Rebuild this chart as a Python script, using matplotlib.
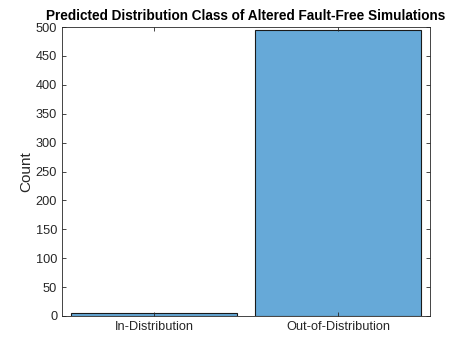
import matplotlib.pyplot as plt

# dados
categorias = ['In-Distribution', 'Out-of-Distribution']
contagens = [5, 495]
yticks = list(range(0, 501, 50))

plt.rcParams['font.family'] = ['Liberation Sans', 'DejaVu Sans']

fig = plt.figure(figsize=(4.74, 3.55), dpi=100)
ax = fig.add_axes([62 / 474, 1 - 316 / 355, 368 / 474, 289 / 355])

ax.bar(range(len(categorias)), contagens, width=0.9, color='#66a9d8',
       edgecolor='#1a1a1a', linewidth=0.8)

ax.set_xlim(-0.5, 1.5)
ax.set_ylim(0, 500)
ax.set_yticks(yticks)
ax.set_xticks(range(len(categorias)))
ax.set_xticklabels(categorias)

for s in ax.spines.values():
    s.set_color('#262626')
    s.set_linewidth(0.6)
ax.tick_params(direction='in', length=3, width=0.6, colors='#262626',
               labelsize=9.2, top=True, right=True)

ax.set_ylabel('Count', fontsize=11, color='#262626', labelpad=2)
ax.set_title('Predicted Distribution Class of Altered Fault-Free Simulations',
             fontsize=9.8, fontweight='bold', pad=5)

plt.savefig('out.png', dpi=100)
